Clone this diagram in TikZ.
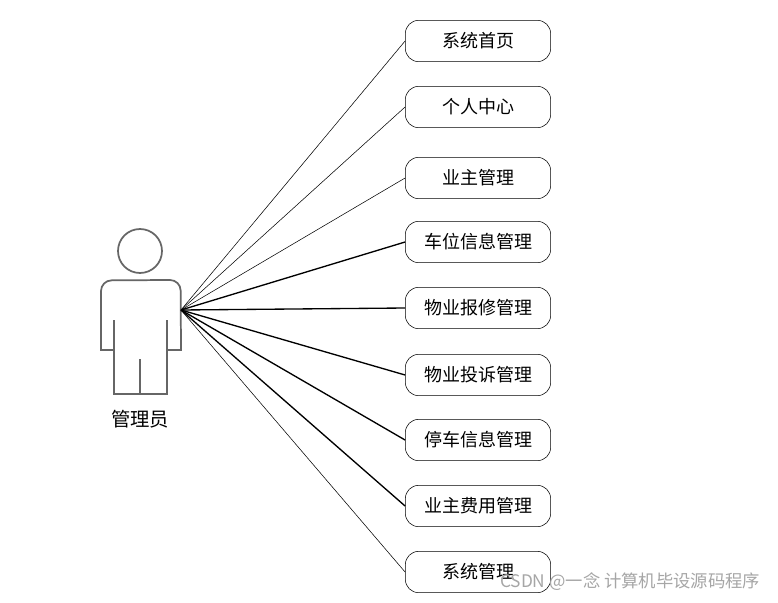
\documentclass[tikz,border=0pt]{standalone}
\usepackage{fontspec}
\newfontfamily\cjk{Noto Sans CJK SC}
\begin{document}
\begin{tikzpicture}[x=0.75pt,y=-0.75pt,
  uc/.style={draw,rounded corners=10pt,minimum width=109pt,minimum height=31pt,font=\cjk\fontsize{13.5pt}{15pt}\selectfont,inner sep=0pt},
  act/.style={draw=black!60,line width=1.3pt},
  thin/.style={line width=0.4pt},
  thick/.style={line width=1pt}]
\useasboundingbox (0,0) rectangle (778,603);
\fill[white] (0,0) rectangle (778,603);
\draw[act] (140,251) circle (22);
\draw[act] (114,320) -- (114,350) -- (101,350) -- (101,291) arc[start angle=180,end angle=90,radius=8pt] -- (170,280) arc[start angle=90,end angle=0,radius=8pt] -- (181,350) -- (167,350) -- (167,320);
\draw[act] (114,350) -- (114,394) -- (167,394) -- (167,350) (140,359) -- (140,394);
\coordinate (h) at (181,310);
\node[font=\cjk\fontsize{14.5pt}{16pt}\selectfont] (lab) at (140,419) {管理员};
\node[uc] (a1) at (478,41) {系统首页};
\node[uc] (a2) at (478,107) {个人中心};
\node[uc] (a3) at (478,178) {业主管理};
\node[uc] (a4) at (478,242) {车位信息管理};
\node[uc] (a5) at (478,308) {物业报修管理};
\node[uc] (a6) at (478,375) {物业投诉管理};
\node[uc] (a7) at (478,440) {停车信息管理};
\node[uc] (a8) at (478,506) {业主费用管理};
\node[uc] (a9) at (478,572) {系统管理};
\foreach \n in {a1,a2,a3,a9} \draw[thin] (h) -- (\n.west);
\foreach \n in {a4,a5,a6,a7,a8} \draw[thick] (h) -- (\n.west);
\node[anchor=east,text=black!35,font=\cjk\fontsize{13pt}{15pt}\selectfont] (wm) at (765,582) {CSDN @一念 计算机毕设源码程序};
\end{tikzpicture}
\end{document}
